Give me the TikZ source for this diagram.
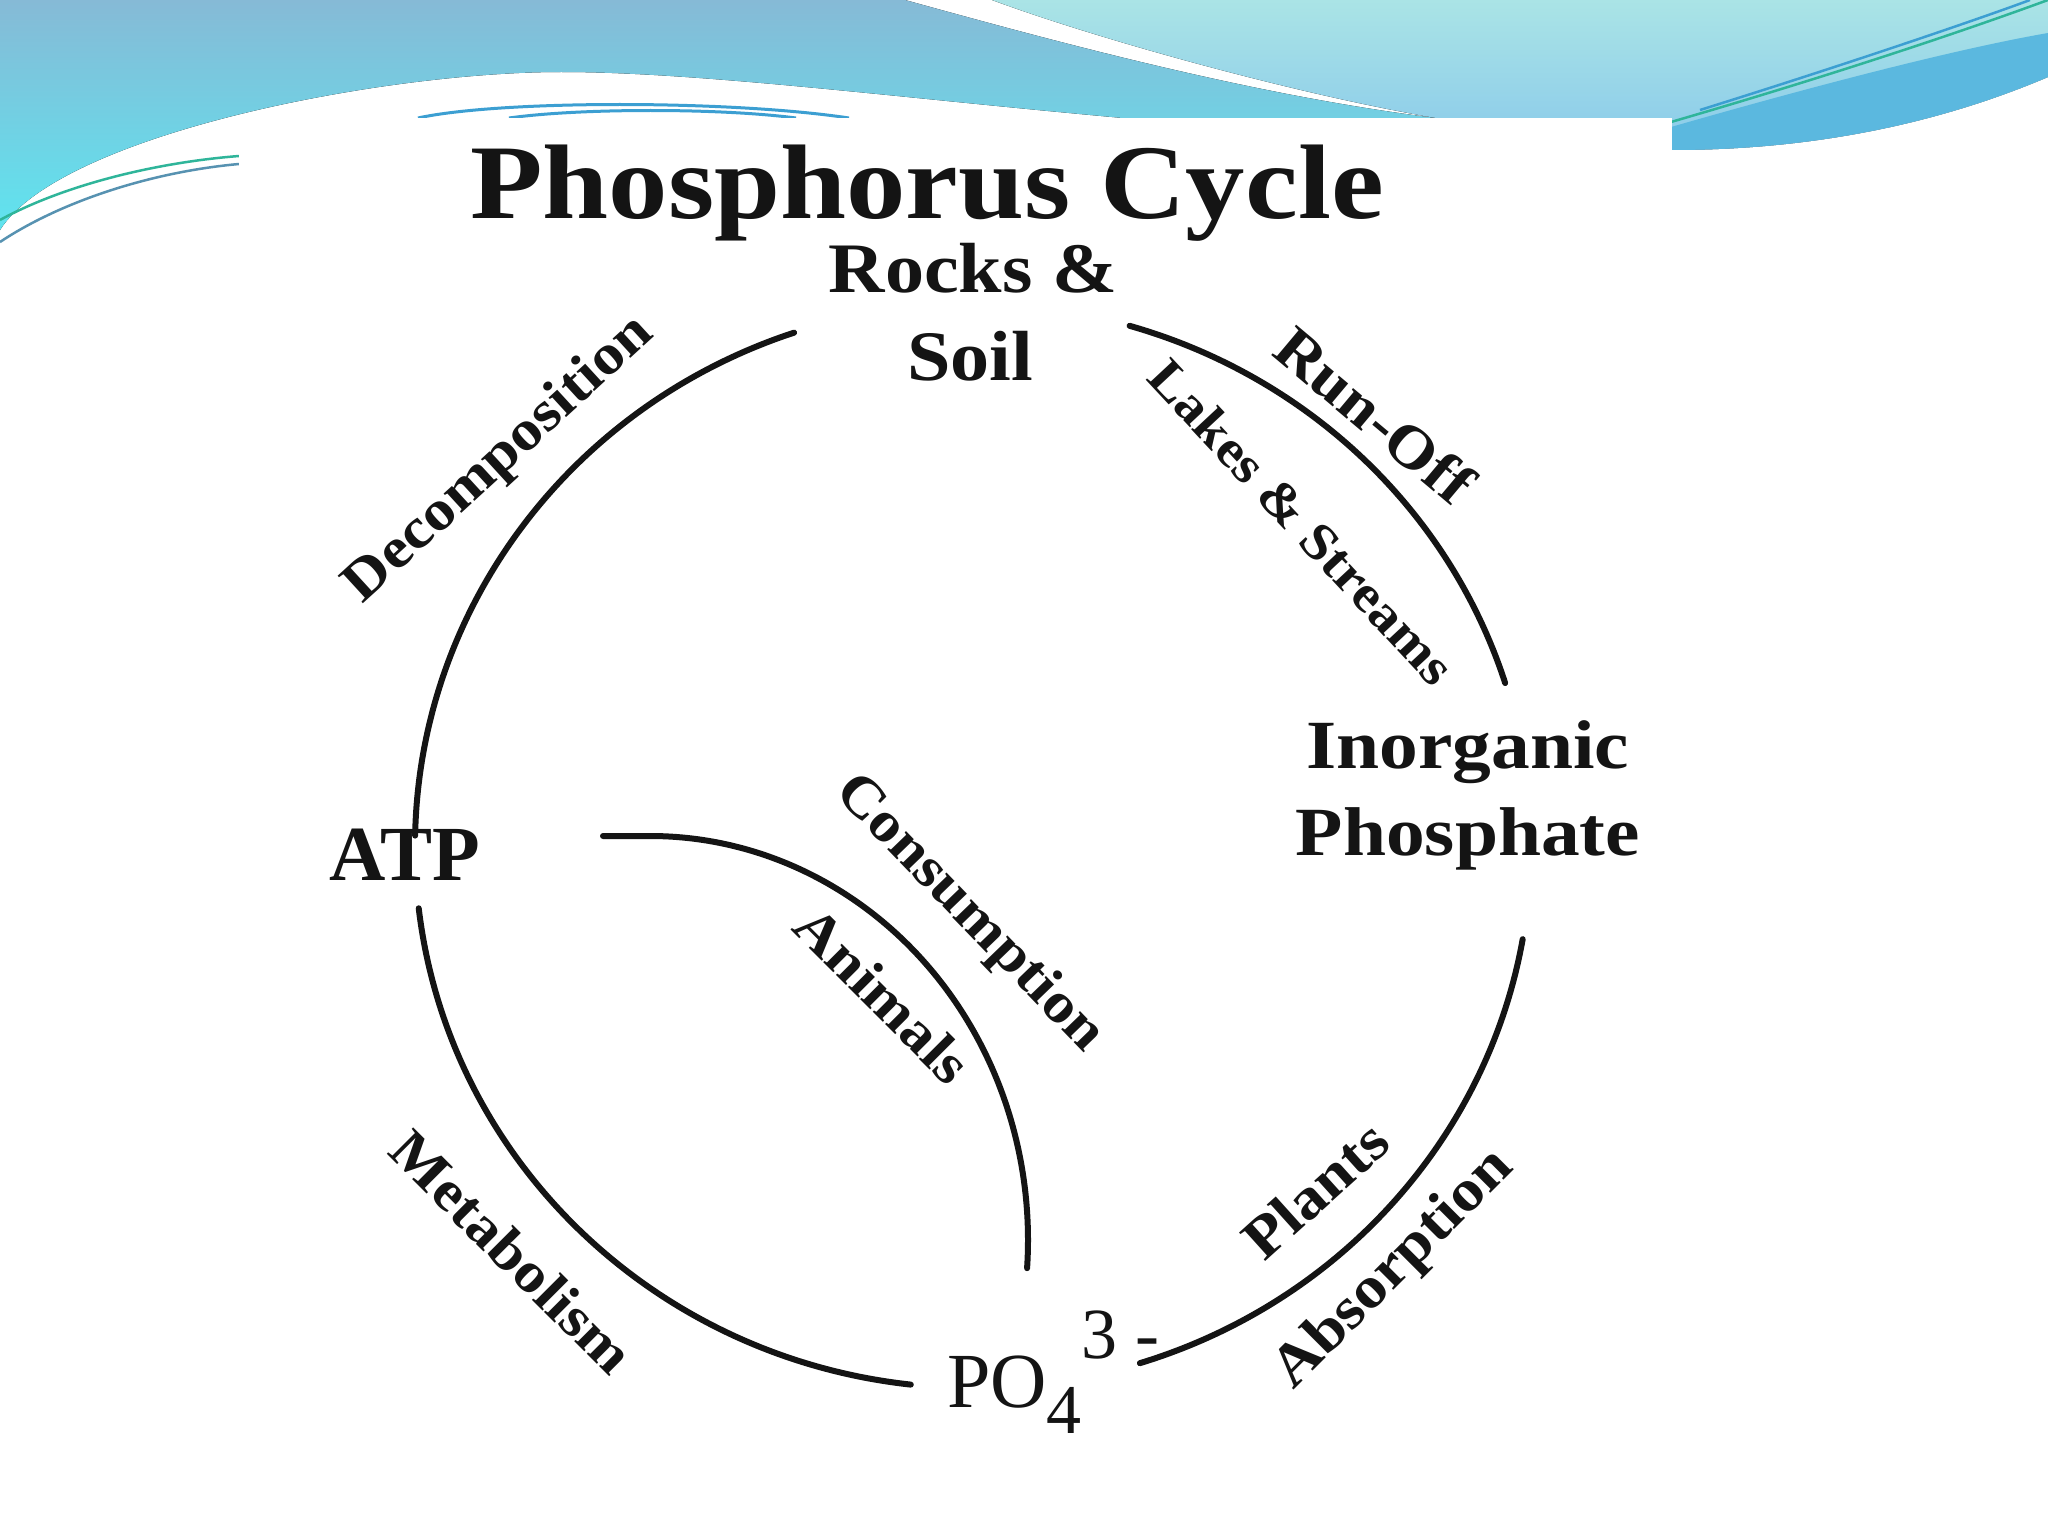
\documentclass[tikz,border=0pt]{standalone}
\usepackage{fontspec}
\setmainfont{Liberation Serif}
\definecolor{ink}{HTML}{141414}
\definecolor{cAtop}{HTML}{86BAD6}
\definecolor{cAbot}{HTML}{5FE4EF}
\definecolor{cBtop}{HTML}{AAE4E6}
\definecolor{cBbot}{HTML}{8ACAEA}
\definecolor{cBand}{HTML}{5BB8DF}
\definecolor{thinblue}{HTML}{3C9FD2}
\definecolor{thingreen}{HTML}{2FB59A}
\begin{document}
\begin{tikzpicture}[x=1pt,y=-1pt,
  ring/.style={line width=6pt, draw=ink, line cap=round},
  lbl/.style={inner sep=0pt, text=ink, xscale=1.1, font=\fontsize{57}{68}\selectfont\bfseries},
  heading/.style={inner sep=0pt, text=ink, anchor=base, xscale=1.12, font=\fontsize{106}{120}\selectfont\bfseries},
  place/.style={inner sep=0pt, text=ink, anchor=base, xscale=1.1, font=\fontsize{70}{80}\selectfont\bfseries},
  deco/.style={line width=2.5pt}]
\useasboundingbox (0,0) rectangle (2048,1536);
\fill[white] (0,0) rectangle (2048,1536);
% slide decoration
\fill[top color=cAtop, bottom color=cAbot]
  (0,0) -- (905,0) .. controls (1050,40) and (1250,95) .. (1436,118)
  -- (1123,118) .. controls (900,98) and (700,72) .. (561,72)
  .. controls (380,72) and (60,135) .. (0,230) -- cycle;
\fill[top color=cBtop, bottom color=cBbot]
  (992,0) -- (2048,0) -- (2048,77) .. controls (1900,140) and (1760,150) .. (1671,150)
  -- (1671,118) -- (1436,118) .. controls (1300,95) and (1100,40) .. (992,0) -- cycle;
\fill[cBand] (1671,127) .. controls (1800,90) and (1950,50) .. (2048,33)
  -- (2048,77) .. controls (1900,140) and (1760,150) .. (1671,150) -- cycle;
\draw[deco, thingreen] (1671,122) .. controls (1850,70) and (1980,25) .. (2048,0);
\draw[deco, thinblue] (1700,110) .. controls (1860,60) and (1990,15) .. (2030,0);
\draw[deco, thingreen] (0,220) .. controls (60,187) and (150,163) .. (239,156);
\draw[deco, thinblue!60!gray] (0,242) .. controls (60,202) and (150,172) .. (239,164);
\draw[line width=3pt, thinblue] (418,118) .. controls (500,100) and (730,100) .. (849,118);
\draw[line width=3pt, thinblue] (509,118) .. controls (580,108) and (720,108) .. (796,118);
% picture panel
\fill[white] (239,118) rectangle (1672,1502);
% headings and places
\node[heading] (title) at (927,218) {Phosphorus Cycle};
\node[place, font=\fontsize{71}{80}\selectfont\bfseries] (rocks) at (973,292) {Rocks \&};
\node[place, font=\fontsize{71}{80}\selectfont\bfseries] (soil) at (970,380) {Soil};
\node[place, font=\fontsize{69}{80}\selectfont\bfseries, xscale=1.02] (inorg) at (1468,768) {Inorganic};
\node[place, font=\fontsize{69}{80}\selectfont\bfseries, xscale=1.02] (phos) at (1468,855) {Phosphate};
\node[inner sep=0pt, text=ink, anchor=base, font=\fontsize{78}{90}\selectfont\bfseries] (atp) at (405,880) {ATP};
\node[inner sep=0pt, text=ink, anchor=base west, font=\fontsize{78}{90}\selectfont] (po4) at (947,1407)
  {PO\raisebox{-26pt}{\fontsize{70}{80}\selectfont 4}\raisebox{49pt}{\fontsize{72}{80}\selectfont 3 -}};
% ring
\coordinate (C) at (973,846);
\path (C) ++(251.3:558 and 542) coordinate (decA);
\path (C) ++(286.3:558 and 542) coordinate (runA);
\path (C) ++(9.9:558 and 542) coordinate (plaA);
\path (C) ++(173.4:558 and 542) coordinate (metA);
\draw[ring] (decA) arc[start angle=251.3, end angle=181.1, x radius=558, y radius=542];
\draw[ring] (runA) arc[start angle=286.3, end angle=342.5, x radius=558, y radius=542];
\draw[ring] (plaA) arc[start angle=9.9, end angle=72.6, x radius=558, y radius=542];
\draw[ring] (metA) arc[start angle=173.4, end angle=96.4, x radius=558, y radius=542];
% inner arc
\coordinate (conA) at (603,836);
\coordinate (conB) at (650,836);
\draw[ring] (conA) -- (conB) arc[start angle=270, end angle=364, x radius=378, y radius=404];
% arc labels
\node[rotate=42.5, lbl] (decomp) at (500,460) {Decomposition};
\node[rotate=-40, lbl, font=\fontsize{60}{70}\selectfont\bfseries] (runoff) at (1375,415) {Run-Off};
\node[rotate=-47, lbl, font=\fontsize{52}{60}\selectfont\bfseries] (lakes) at (1302,522) {Lakes \& Streams};
\node[rotate=-46, lbl] (consum) at (969,914) {Consumption};
\node[rotate=-45, lbl] (animals) at (883,995) {Animals};
\node[rotate=-45, lbl] (metab) at (512,1252) {Metabolism};
\node[rotate=42, lbl, font=\fontsize{59}{70}\selectfont\bfseries] (plants) at (1315,1190) {Plants};
\node[rotate=45, lbl, font=\fontsize{59}{70}\selectfont\bfseries] (absorb) at (1394,1270) {Absorption};
\end{tikzpicture}
\end{document}
